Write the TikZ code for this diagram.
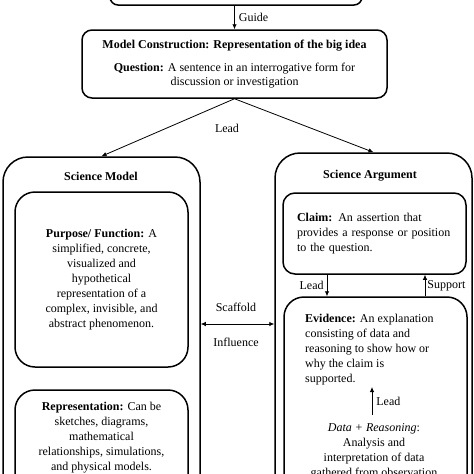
\documentclass[tikz,border=0pt]{standalone}
\usepackage{fontspec}
\setmainfont{Liberation Serif}
\usetikzlibrary{arrows.meta,calc}
\begin{document}
\begin{tikzpicture}[x=1pt,y=-1pt,
  box/.style={draw,line width=1.5pt,rounded corners=#1,inner sep=0pt},
  txt/.style={font=\fontsize{12}{15}\selectfont,inner sep=0pt},
  arr/.style={line width=0.8pt,-{Latex[length=5pt,width=4.5pt]}},
  arrboth/.style={line width=0.8pt,{Latex[length=5pt,width=4.5pt]}-{Latex[length=5pt,width=4.5pt]}}
]
\useasboundingbox (0,0) rectangle (474,474);
\clip (0,0) rectangle (474,474);
% boxes
\node[box=8pt,minimum width=252pt,minimum height=60pt] (top) at (236,-25) {};
\node[box=10pt,minimum width=305pt,minimum height=68pt,txt,align=center] (mc) at (234.5,64)
  {\textbf{Model Construction: Representation of the big idea}\\[8pt]
   \textbf{Question:} A sentence in an interrogative form for\\[-1pt] discussion or investigation};
\node[box=25pt,minimum width=197pt,minimum height=420pt] (sm) at (101.5,367) {};
\node[box=25pt,minimum width=197pt,minimum height=420pt] (sa) at (373.5,363) {};
\node[txt,font=\fontsize{12}{15}\selectfont\bfseries] (smt) at (101,176) {Science Model};
\node[txt,font=\fontsize{12}{15}\selectfont\bfseries] (sat) at (370,176) {Science Argument};
\node[box=20pt,minimum width=173pt,minimum height=175pt,txt,align=center] (purp) at (101.5,279.5)
  {\textbf{Purpose/ Function:} A\\ simplified, concrete,\\ visualized and\\ hypothetical\\ representation of a\\ complex, invisible, and\\ abstract phenomenon.};
\node[box=20pt,minimum width=173pt,minimum height=200pt] (rep) at (101.5,490) {};
\node[txt,align=center,anchor=north] (rept) at (101.5,402)
  {\textbf{Representation:} Can be\\ sketches, diagrams,\\ mathematical\\ relationships, simulations,\\ and physical models.};
\node[box=12pt,minimum width=183pt,minimum height=81pt,txt,align=left,text width=155pt] (claim) at (374.5,233.5)
  {\textbf{Claim:} An assertion that\\ provides a response or position\\ to the question.};
\node[box=20pt,minimum width=183pt,minimum height=250pt] (evid) at (375.5,422) {};
\node[txt,align=left,anchor=north west] (evt) at (305,314)
  {\textbf{Evidence:} An explanation\\ consisting of data and\\ reasoning to show how or\\ why the claim is\\ supported.};
\node[txt,align=center,anchor=north] (dr) at (374,423)
  {\textit{Data + Reasoning}:\\ Analysis and\\ interpretation of data\\ gathered from observation};
% arrows
\draw[arr] (top.south -| mc.north) -- (mc.north) node[midway,right=4pt,txt] (guide) {Guide};
\draw[arr] (mc.south) -- (sm.north);
\draw[arr] (mc.south) -- (sa.north);
\node[txt] (lead1) at (227,128) {Lead};
\coordinate (scf) at (237,324);
\draw[arrboth] (sm.east |- scf) -- (sa.west |- scf);
\node[txt] (scaf) at (236,307) {Scaffold};
\node[txt] (infl) at (236,342) {Influence};
\coordinate (lx) at (327,0);
\coordinate (sx) at (425,0);
\draw[arr] (claim.south -| lx) -- (evid.north -| lx) node[midway,left=3pt,txt] (lead2) {Lead};
\draw[arr] (evid.north -| sx) -- (claim.south -| sx) node[midway,right=2pt,txt] (supp) {Support};
\coordinate (ia) at (372,415);
\coordinate (ib) at (372,387);
\draw[arr] (ia) -- (ib) node[midway,right=4pt,txt] (lead3) {Lead};
\end{tikzpicture}
\end{document}
